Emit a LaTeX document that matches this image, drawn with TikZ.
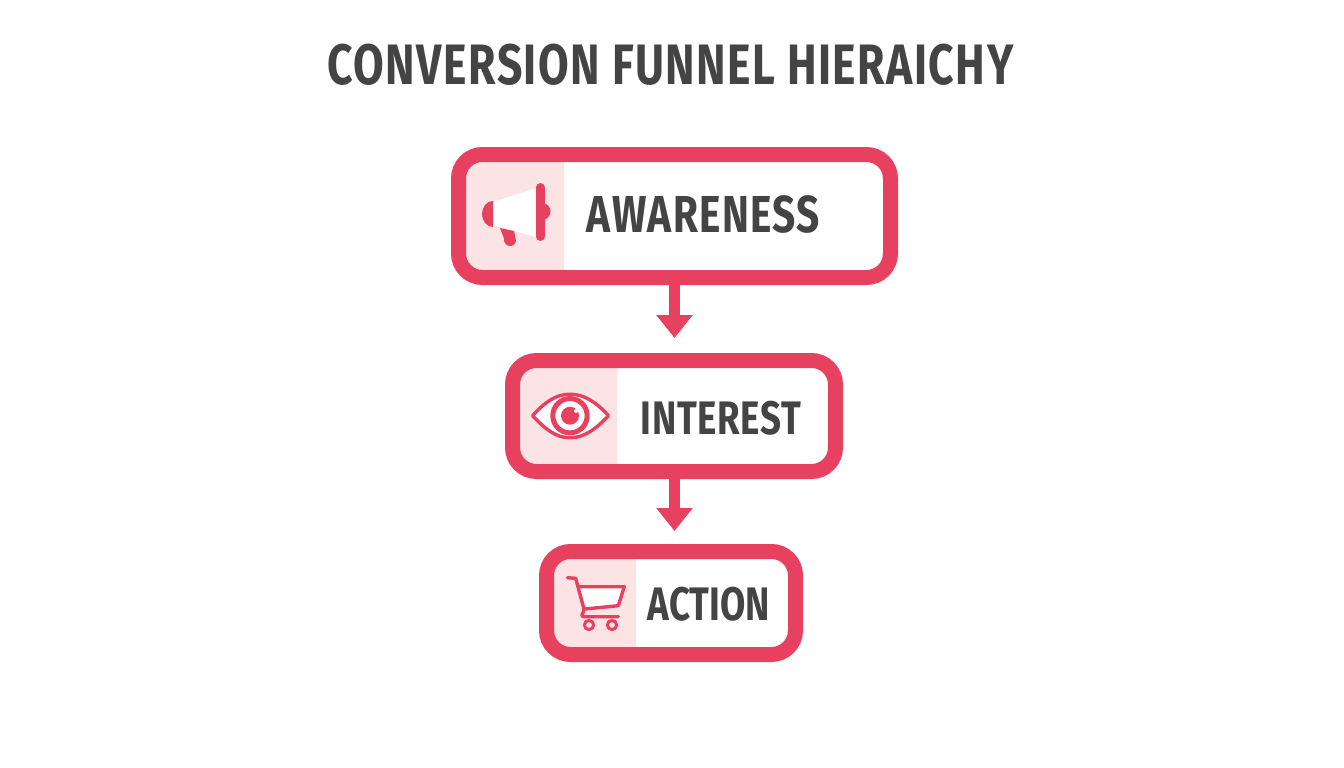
\documentclass[tikz,border=0pt]{standalone}
\usepackage{fontspec}
\setmainfont[FakeStretch=0.78]{Fira Sans}
\usetikzlibrary{arrows.meta}
\definecolor{funred}{HTML}{E8405F}
\definecolor{funtint}{HTML}{FCE4E5}
\definecolor{funtext}{HTML}{444444}
\tikzset{
  x=1pt,y=-1pt,
  funbox/.style={draw=funred,line width=15pt,rounded corners=24pt,inner sep=0pt},
  funlabel/.style 2 args={text=funtext,font=\fontsize{#1}{#1}\selectfont\bfseries\addfontfeature{LetterSpace=#2},inner sep=0pt,anchor=center},
  funlink/.style={draw=funred,line width=11pt,-{Triangle[width=35pt,length=23pt]},shorten >=15pt},
  icon/.style={line width=3.4pt,draw=funred,line join=round,line cap=round},
}
\begin{document}
\begin{tikzpicture}
\useasboundingbox (0,0) rectangle (1344,768);
\fill[white] (0,0) rectangle (1344,768);
% panels
\fill[funtint] (564,154.5) {[rounded corners=24pt] -- (458.5,154.5) -- (458.5,277.5)} -- (564,277.5) -- cycle;
\fill[funtint] (617,360.5) {[rounded corners=24pt] -- (512.5,360.5) -- (512.5,471.5)} -- (617,471.5) -- cycle;
\fill[funtint] (636,551.5) {[rounded corners=24pt] -- (546.5,551.5) -- (546.5,654.5)} -- (636,654.5) -- cycle;
% boxes
\node[funbox,minimum width=432pt,minimum height=123pt] (b1) at (674.5,216) {};
\node[funbox,minimum width=323pt,minimum height=111pt] (b2) at (674,416) {};
\node[funbox,minimum width=249pt,minimum height=103pt] (b3) at (671,603) {};
% labels
\node[funlabel={57}{2.6}] (title) at (670.5,65) {CONVERSION FUNNEL HIERAICHY};
\node[funlabel={52}{2.6}] (l1) at (703.5,214) {AWARENESS};
\node[funlabel={47}{1.5}] (l2) at (721,418) {INTEREST};
\node[funlabel={47}{0}] (l3) at (709,604) {ACTION};
% connectors
\draw[funlink] (b1.south -| 674.5,0) -- (b2.north -| 674.5,0);
\draw[funlink,shorten >=13pt] (b2.south -| 674.5,0) -- (b3.north -| 674.5,0);
% megaphone
\fill[white] (493,202) -- (536,188) -- (536,237) -- (493,225) -- cycle;
\fill[funred] (493,201) arc[start angle=270,end angle=90,x radius=11,y radius=13] -- cycle;
\fill[funred] (500,228) -- (514,231) -- (516,241) arc[start angle=10,end angle=190,radius=6] -- cycle;
\fill[funred] (542,203) arc[start angle=-90,end angle=90,radius=8.5] -- cycle;
\draw[funred,line width=9pt,line cap=round] (540,187.5) -- (540,236.5);
% eye
\draw[icon,fill=white] (532.5,415.7) .. controls (545,402) and (556,394.2) .. (570,394.2) .. controls (584,394.2) and (596,402) .. (608.5,415.7) .. controls (596,429) and (584,437.8) .. (570,437.8) .. controls (556,437.8) and (545,429) .. (532.5,415.7) -- cycle;
\draw[funred,line width=5pt,fill=white] (570,415.7) circle[radius=17.2];
\fill[funred] (570,415.7) circle[radius=9];
\fill[white] (576,411) circle[radius=2];
% cart
\fill[white] (578,586.7) -- (624.3,586.7) -- (618.3,605.7) -- (585,609) -- cycle;
\draw[icon] (567.5,577.7) -- (575.7,578.3) -- (584,609) .. controls (585,612) and (578,616.7) .. (585,616.7) -- (618.3,616.7);
\draw[icon] (578.5,586.7) -- (624.3,586.7) -- (618.3,605.7) -- (585,609);
\draw[funred,line width=3pt] (589,625) circle[radius=4.6];
\draw[funred,line width=3pt] (612,625) circle[radius=4.6];
\end{tikzpicture}
\end{document}
